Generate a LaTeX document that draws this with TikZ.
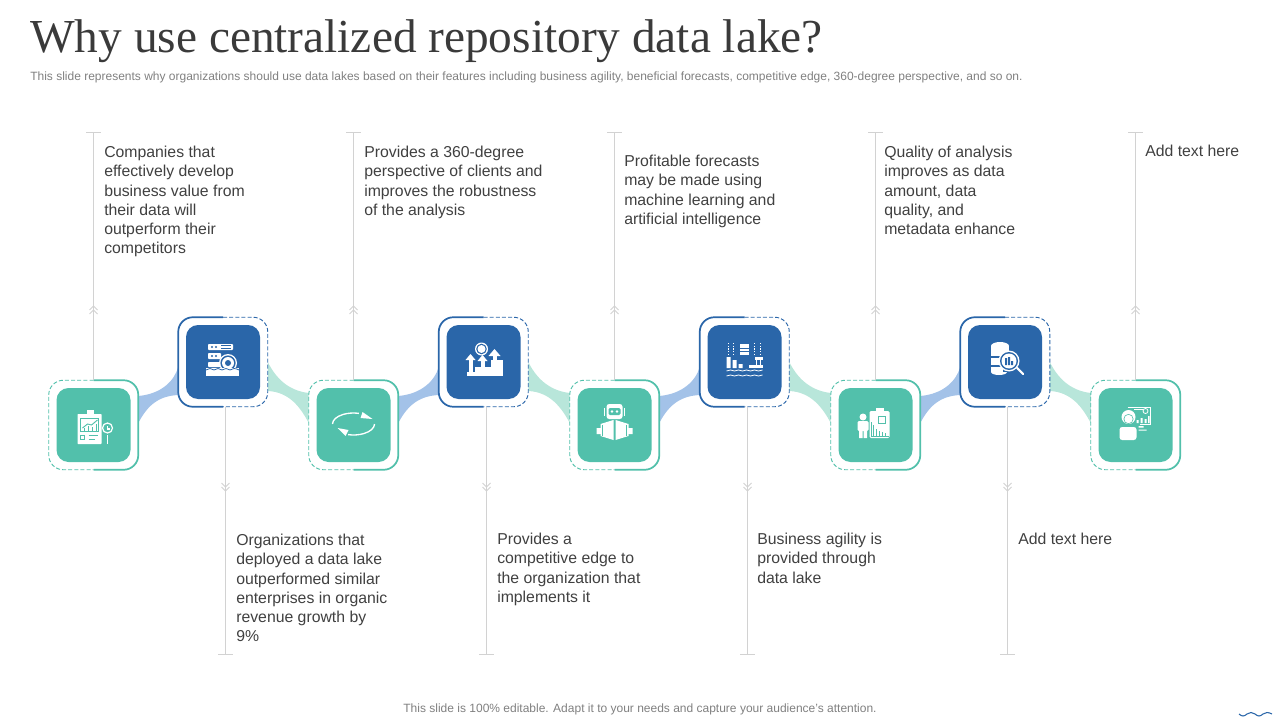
\documentclass[tikz,border=0pt]{standalone}
\usepackage{fontspec}
\setmainfont{Liberation Sans}
\newfontfamily\titlefont{Liberation Serif}
\usetikzlibrary{arrows.meta, calc}

\definecolor{cardgreen}{HTML}{52C0AB}
\definecolor{cardblue}{HTML}{2A66A9}
\definecolor{linkblue}{HTML}{A3C2E8}
\definecolor{linkgreen}{HTML}{B8E6DA}
\definecolor{stemgray}{HTML}{D2D2D2}
\definecolor{bodytext}{HTML}{404040}

% frame round a card: solid on one side, dashed on the other
\newcommand{\cardframe}[4]{%
  \draw[framesolid, draw=#2] (#1.north) -- (#1.north #3) -- (#1.south #3) -- (#1.south);
  \draw[framedash, draw=#2] (#1.north) -- (#1.north #4) -- (#1.south #4) -- (#1.south);
}
% links between the cards
\newcommand{\uplink}[2]{%
  \fill[linkblue] ($(#1.east)+(0,-29)$) .. controls +(23,-2) and +(-4,14) .. ($(#2.west)+(0,5)$)
    -- ($(#2.west)+(0,33)$) .. controls +(-22,1) and +(8,-15) .. ($(#1.east)+(0,-2)$) -- cycle;
}
\newcommand{\downlink}[2]{%
  \fill[linkgreen] ($(#1.east)+(0,0)$) .. controls +(10,20) and +(-17,-2) .. ($(#2.west)+(0,-32)$)
    -- ($(#2.west)+(0,-2)$) .. controls +(-8,-15) and +(22,1) .. ($(#1.east)+(0,29)$) -- cycle;
}

\tikzset{
  x=0.75pt, y=-0.75pt,
  chev up/.pic={
    \draw[stemgray, line width=0.6pt] (-4,0) -- (0,-4) -- (4,0) (-4,4) -- (0,0) -- (4,4);
  },
  chev down/.pic={
    \draw[stemgray, line width=0.6pt] (-4,0) -- (0,4) -- (4,0) (-4,-4) -- (0,0) -- (4,-4);
  },
  icon chart/.pic={
    \fill[white] (-7,-15) rectangle (0,-10);
    \fill[white, rounded corners=0.5pt] (-16,-11) rectangle (8,19);
    \draw[cardgreen, line width=0.5pt] (-13,-7) rectangle (5,6);
    \draw[cardgreen, line width=0.7pt] (-11,3) -- (-6,-1) -- (-2,0) -- (4,-5);
    \draw[cardgreen, line width=0.7pt] (-9,6) -- (-9,3) (-5,6) -- (-5,1) (-1,6) -- (-1,2) (3,6) -- (3,-1);
    \draw[cardgreen, line width=0.6pt] (-13,10) rectangle (-9,14) (-5,10) -- (4,10) (-5,14) -- (1,14);
    \draw[white, line width=0.9pt] (14,3) circle (5);
    \draw[white, line width=0.9pt] (14,1) -- (14,4) -- (16,4);
    \draw[white, line width=1.2pt] (14,10) -- (14,19);
  },
  icon server/.pic={
    \fill[white, rounded corners=0.6pt] (-15,-18) rectangle (10,-12);
    \fill[white, rounded corners=0.6pt] (-15,-9) rectangle (-2,-3);
    \fill[white, rounded corners=0.6pt] (-15,0) rectangle (-2,5);
    \fill[cardblue] (-11,-15) circle (1.1) (-7,-15) circle (1.1) (-11,-6) circle (1.1) (-7,-6) circle (1.1);
    \draw[cardblue, line width=0.6pt] (-2,-16.5) -- (8,-16.5) (-2,-13.5) -- (8,-13.5);
    \fill[white] (5,1) circle (9);
    \fill[cardblue] (5,1) circle (7.6);
    \fill[white] (5,1) circle (6);
    \fill[cardblue] (5,1) circle (3);
    \fill[white] (-17,6) rectangle (16,14);
    \draw[cardblue, line width=0.6pt] (-17,8) sin (-13,6.5) cos (-9,8) sin (-5,6.5) cos (-1,8) sin (3,6.5) cos (7,8) sin (11,6.5) cos (16,8);
  },
  icon cycle/.pic={
    \draw[white, line width=1pt] (-21,-1) arc[start angle=180, end angle=285, x radius=21, y radius=11];
    \draw[white, line width=1pt] (21,-1) arc[start angle=0, end angle=105, x radius=21, y radius=11];
    \fill[white] (9,-13) -- (19,-6) -- (7,-7) -- cycle;
    \fill[white] (-16,3) -- (-5,5) -- (-8,11) -- cycle;
  },
  icon steps/.pic={
    \fill[white] (-17,10) rectangle (19,14);
    \fill[white] (-15,-2) rectangle (-11,10);
    \fill[white] (-9,5) rectangle (9,10);
    \fill[white] (-3,-1) rectangle (1,5);
    \fill[white] (7,-2) rectangle (19,10);
    \fill[white] (9,-6) rectangle (13,-2);
    \fill[white] (-18,-2) -- (-13,-8) -- (-8,-2) -- cycle;
    \fill[white] (-6,-1) -- (-1,-7) -- (4,-1) -- cycle;
    \fill[white] (5,-6) -- (11,-13) -- (17,-6) -- cycle;
    \fill[white] (-2,-13) circle (6.5);
    \fill[cardblue] (-2,-13) circle (5.3);
    \fill[white] (-2,-13) circle (4);
  },
  icon robot/.pic={
    \fill[white, rounded corners=2pt] (-8,-21) rectangle (8,-6);
    \fill[cardgreen, rounded corners=1pt] (-6,-17) rectangle (6,-10);
    \fill[white] (-2.5,-13.5) circle (1.4) (2.5,-13.5) circle (1.4);
    \draw[white, line width=0.8pt] (-10,-17) -- (-10,-9) (10,-17) -- (10,-9);
    \fill[white] (-14,-1) -- (-1,-5) -- (-1,15) -- (-14,11) -- cycle;
    \fill[white] (14,-1) -- (1,-5) -- (1,15) -- (14,11) -- cycle;
    \fill[white] (-18,3) rectangle (-12,9) (12,3) rectangle (18,9);
    \draw[cardgreen, line width=0.5pt] (-12,0) -- (-12,11) (12,0) -- (12,11);
  },
  icon bars/.pic={
    \draw[white, line width=0.5pt, dash pattern=on 1pt off 1pt] (-16,-25) -- (-16,-12) (-11,-25) -- (-11,-12) (10,-25) -- (10,-12) (16,-25) -- (16,-12);
    \fill[white] (-4.5,-24) rectangle (4.5,-13);
    \draw[cardblue, line width=0.4pt] (-4.5,-20) -- (4.5,-20) (-4.5,-16.5) -- (4.5,-16.5);
    \fill[white] (-18,-11) rectangle (-14,0) (-12,-8) rectangle (-8,0) (-6,-4) rectangle (-2,0);
    \fill[white] (4,-3) rectangle (18,0);
    \fill[white] (10,-11) rectangle (18,-8);
    \draw[white, line width=0.6pt] (12,-8) -- (12,-3) (16,-8) -- (16,-3);
    \draw[white, line width=0.6pt] (-18,3) sin (-14,2) cos (-10,3) sin (-6,2) cos (-2,3) sin (2,2) cos (6,3) sin (10,2) cos (14,3) sin (18,2);
    \draw[white, line width=0.6pt] (-18,8) sin (-14,7) cos (-10,8) sin (-6,7) cos (-2,8) sin (2,7) cos (6,8) sin (10,7) cos (14,8) sin (18,7);
  },
  icon person/.pic={
    \fill[white] (-12.5,-8) circle (3.5);
    \fill[white, rounded corners=1pt] (-18,-4) rectangle (-7,6);
    \fill[white] (-16.5,6) rectangle (-13,13) (-12,6) rectangle (-8.5,13);
    \fill[white, rounded corners=1pt] (-6,-14) rectangle (14,13);
    \fill[white] (0,-17) rectangle (8,-13);
    \draw[cardgreen, line width=0.5pt] (3,-9) rectangle (10,-2);
    \draw[cardgreen, line width=0.5pt] (-4,-3) -- (-4,11) -- (13,11);
    \draw[cardgreen, line width=0.7pt] (-2,11) -- (-2,0) (1,11) -- (1,4) (4,11) -- (4,6) (7,11) -- (7,7) (10,11) -- (10,8);
  },
  icon lens/.pic={
    \fill[white] (-14,-16) rectangle (4,-6);
    \fill[white] (-14,-16) arc[start angle=180, end angle=360, x radius=9, y radius=4];
    \fill[white] (-14,-4) rectangle (-2,3);
    \fill[white] (-14,5) rectangle (-2,10);
    \fill[white] (-14,10) arc[start angle=180, end angle=0, x radius=8, y radius=3];
    \fill[white] (4,-1) circle (10.5);
    \fill[cardblue] (4,-1) circle (9);
    \fill[white] (4,-1) circle (7.5);
    \fill[cardblue] (0,-4) rectangle (2,3) (3,-5) rectangle (5,3) (6,-1) rectangle (8,3);
    \draw[white, line width=1.6pt, line cap=round] (12,6) -- (18,12);
  },
  icon speaker/.pic={
    \draw[white, line width=0.7pt] (-8,-18) -- (15,-18) -- (15,-1) -- (4,-1);
    \fill[white] (-2,-16) rectangle (7,-15);
    \draw[white, line width=0.6pt] (10,-14) circle (2.5);
    \fill[white] (1,-2) rectangle (3,-5) (5,-2) rectangle (7,-7) (9,-2) rectangle (11,-6) (12.5,-2) rectangle (14,-9);
    \fill[white] (-7,-8) circle (7);
    \fill[cardgreen] (-7,-6) circle (5);
    \fill[white] (-7,-6) circle (4.2);
    \fill[white, rounded corners=2pt] (-16,2) rectangle (1,15);
    \fill[white] (3,1) rectangle (8,2.5) (3,4.5) rectangle (11,5.5);
  }
}

\begin{document}
\begin{tikzpicture}[
  card/.style={minimum size=55.5pt, inner sep=0pt, rounded corners=9pt},
  greencard/.style={card, fill=cardgreen},
  bluecard/.style={card, fill=cardblue},
  ring/.style={minimum size=66.75pt, inner sep=0pt},
  framesolid/.style={line width=1.3pt, rounded corners=11pt},
  framedash/.style={line width=0.7pt, rounded corners=11pt, dash pattern=on 3pt off 1.6pt},
  stem/.style={stemgray, line width=0.8pt, -{Bar[width=11pt, length=0.7pt]}},
  txt/.style={anchor=north west, align=left, inner sep=0pt, font=\fontsize{11.85}{14.4}\selectfont, text=bodytext}
]
  \useasboundingbox (0,0) rectangle (1280,720);

  \node[anchor=west, inner sep=0pt, font=\titlefont\fontsize{35.5}{40}\selectfont, text=bodytext!90!black] (title) at (30,41.5)
        {Why use centralized repository data lake?};
  \node[anchor=west, inner sep=0pt, font=\fontsize{9}{11}\selectfont, text=gray] (subtitle) at (30,77.5)
        {This slide represents why organizations should use data lakes based on their features including business agility, beneficial forecasts, competitive edge, 360-degree perspective, and so on.};
  \node[inner sep=0pt, font=\fontsize{9}{11}\selectfont, text=gray] (footer) at (640,709)
        {This slide is 100\% editable. Adapt it to your needs and capture your audience's attention.};

  \node[ring] (r1) at (93.5,425) {};
  \node[ring] (r2) at (223,362) {};
  \node[ring] (r3) at (353.5,425) {};
  \node[ring] (r4) at (483.5,362) {};
  \node[ring] (r5) at (614.5,425) {};
  \node[ring] (r6) at (744.5,362) {};
  \node[ring] (r7) at (875.5,425) {};
  \node[ring] (r8) at (1005,362) {};
  \node[ring] (r9) at (1135.5,425) {};

  \uplink{r1}{r2}
  \downlink{r2}{r3}
  \uplink{r3}{r4}
  \downlink{r4}{r5}
  \uplink{r5}{r6}
  \downlink{r6}{r7}
  \uplink{r7}{r8}
  \downlink{r8}{r9}

  \node[greencard] (c1) at (r1) {};
  \node[bluecard]  (c2) at (r2) {};
  \node[greencard] (c3) at (r3) {};
  \node[bluecard]  (c4) at (r4) {};
  \node[greencard] (c5) at (r5) {};
  \node[bluecard]  (c6) at (r6) {};
  \node[greencard] (c7) at (r7) {};
  \node[bluecard]  (c8) at (r8) {};
  \node[greencard] (c9) at (r9) {};

  \cardframe{r1}{cardgreen}{east}{west}
  \cardframe{r2}{cardblue}{west}{east}
  \cardframe{r3}{cardgreen}{east}{west}
  \cardframe{r4}{cardblue}{west}{east}
  \cardframe{r5}{cardgreen}{east}{west}
  \cardframe{r6}{cardblue}{west}{east}
  \cardframe{r7}{cardgreen}{east}{west}
  \cardframe{r8}{cardblue}{west}{east}
  \cardframe{r9}{cardgreen}{east}{west}

  \pic at (c1) {icon chart};
  \pic at (c2) {icon server};
  \pic at (c3) {icon cycle};
  \pic at (c4) {icon steps};
  \pic at (c5) {icon robot};
  \pic at ([yshift=-4.5pt]c6) {icon bars};
  \pic at (c7) {icon person};
  \pic at (c8) {icon lens};
  \pic at (c9) {icon speaker};

  \coordinate (s1) at (93.5,132);
  \coordinate (s2) at (225.5,655);
  \coordinate (s3) at (353.5,132);
  \coordinate (s4) at (486.5,655);
  \coordinate (s5) at (614.5,132);
  \coordinate (s6) at (747.5,655);
  \coordinate (s7) at (875.5,132);
  \coordinate (s8) at (1007.5,655);
  \coordinate (s9) at (1135.5,132);

  \draw[stem] (r1.north) -- (s1);
  \draw[stem] (s2 |- r2.south) -- (s2);
  \draw[stem] (r3.north) -- (s3);
  \draw[stem] (s4 |- r4.south) -- (s4);
  \draw[stem] (r5.north) -- (s5);
  \draw[stem] (s6 |- r6.south) -- (s6);
  \draw[stem] (r7.north) -- (s7);
  \draw[stem] (s8 |- r8.south) -- (s8);
  \draw[stem] (r9.north) -- (s9);

  \pic at (93.5,310) {chev up};
  \pic at (225.5,487) {chev down};
  \pic at (353.5,310) {chev up};
  \pic at (486.5,487) {chev down};
  \pic at (614.5,310) {chev up};
  \pic at (747.5,487) {chev down};
  \pic at (875.5,310) {chev up};
  \pic at (1007.5,487) {chev down};
  \pic at (1135.5,310) {chev up};

  \node[txt] (t1) at (104,146) {Companies that\\effectively develop\\business value from\\their data will\\outperform their\\competitors};
  \node[txt] (t2) at (236,534) {Organizations that\\deployed a data lake\\outperformed similar\\enterprises in organic\\revenue growth by\\9\%};
  \node[txt] (t3) at (364,146) {Provides a 360-degree\\perspective of clients and\\improves the robustness\\of the analysis};
  \node[txt] (t4) at (497,533) {Provides a\\competitive edge to\\the organization that\\implements it};
  \node[txt] (t5) at (624,155) {Profitable forecasts\\may be made using\\machine learning and\\artificial intelligence};
  \node[txt] (t6) at (757,533) {Business agility is\\provided through\\data lake};
  \node[txt] (t7) at (884,146) {Quality of analysis\\improves as data\\amount, data\\quality, and\\metadata enhance};
  \node[txt] (t8) at (1018,533) {Add text here};
  \node[txt] (t9) at (1145,145) {Add text here};

  \draw[cardblue, line width=0.8pt] (1239,714) sin (1243,716) cos (1247,714) sin (1251,712.5) cos (1255,714) sin (1259,716) cos (1263,714) sin (1267,712.5) cos (1272,714);
\end{tikzpicture}
\end{document}
